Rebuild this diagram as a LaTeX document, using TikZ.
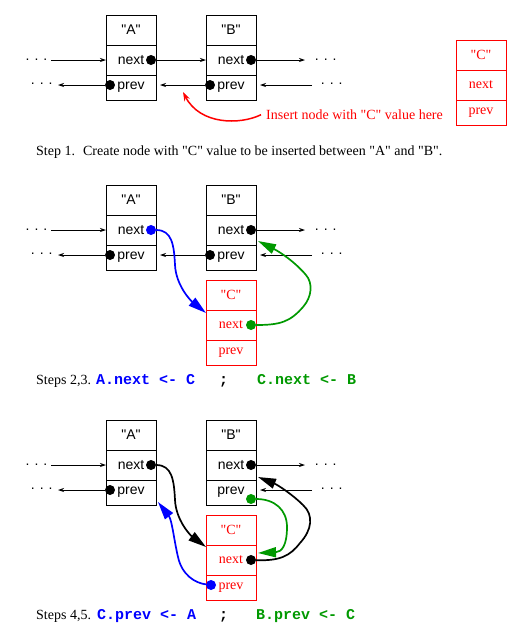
\documentclass[tikz,border=0pt]{standalone}
\usepackage{fontspec}
\setmainfont{Liberation Serif}[Ligatures=TeXOff]
\setmonofont{Liberation Mono}
\newfontfamily\arialfont{Liberation Sans}[Ligatures=TeXOff]
\usetikzlibrary{arrows.meta}
\definecolor{cgreen}{RGB}{0,153,0}
\definecolor{cblue}{RGB}{0,0,255}
\definecolor{cred}{RGB}{255,0,0}
\begin{document}
\begin{tikzpicture}[x=1pt,y=-1pt,
 cellbase/.style={draw, line width=0.9pt, minimum width=50pt, inner sep=0pt, outer sep=0pt},
 tallcell/.style={cellbase, minimum height=30pt},
 shortcell/.style={cellbase, minimum height=25pt},
 sanstext/.style={font=\arialfont\fontsize{14}{16}\selectfont},
 redcell/.style={text=cred, draw=cred, font=\fontsize{14}{16}\selectfont},
 dotnode/.style={circle, fill, inner sep=0pt, minimum size=10pt},
 ptr/.style={line width=0.8pt, -{Stealth[length=6pt,width=4pt]}},
 ellnode/.style={anchor=base west, inner sep=0pt, font=\arialfont\fontsize{14}{16}\selectfont},
 bigarrow/.style={line width=1.7pt, -{Triangle[length=18pt,width=10pt]}},
 redarrow/.style={cred, line width=1.5pt, -{Stealth[length=9pt,width=6pt]}},
 captext/.style={anchor=base west, inner sep=0pt, font=\fontsize{14}{16}\selectfont},
 codetext/.style={anchor=base west, inner sep=0pt, font=\ttfamily\bfseries\fontsize{15}{17}\selectfont},
]
\fill[white] (0,0) rectangle (521,641);
\useasboundingbox (0,0) rectangle (521,641);

% ================= Panel 1 =================
\node[tallcell,sanstext] (A1v) at (131,30) {"A"};
\node[tallcell,sanstext] (A1n) at (131,60) {next};
\node[shortcell,sanstext] (A1p) at (131,87.5) {prev};
\node[tallcell,sanstext] (B1v) at (231,30) {"B"};
\node[tallcell,sanstext] (B1n) at (231,60) {next};
\node[shortcell,sanstext] (B1p) at (231,87.5) {prev};
\node[tallcell,redcell] (C1v) at (481,55) {"C"};
\node[tallcell,redcell] (C1n) at (481,85) {next};
\node[shortcell,redcell] (C1p) at (481,112.5) {prev};

\node[dotnode] (A1nd) at (151,60) {};
\node[dotnode] (A1pd) at (110,85) {};
\node[dotnode] (B1nd) at (251,60) {};
\node[dotnode] (B1pd) at (210,85) {};

\node[ellnode] (L1t) at (25.5,60) {.\hspace{5pt}.\hspace{5pt}.};
\node[ellnode] (L1b) at (30.7,84.5) {.\hspace{5pt}.\hspace{5pt}.};
\node[ellnode] (R1t) at (314.7,60) {.\hspace{5pt}.\hspace{5pt}.};
\node[ellnode] (R1b) at (320.7,84.5) {.\hspace{5pt}.\hspace{5pt}.};

\coordinate (L1s) at (51,60);
\coordinate (L1e) at (58,85);
\coordinate (A1pin) at (160,85);
\coordinate (R1e) at (305,60);
\coordinate (R1s) at (312,85);
\coordinate (B1pin) at (260,85);
\draw[ptr] (L1s) -- (A1n.west);
\draw[ptr] (A1pd) -- (L1e);
\draw[ptr] (A1nd) -- (B1n.west);
\draw[ptr] (B1pd) -- (A1pin);
\draw[ptr] (B1nd) -- (R1e);
\draw[ptr] (R1s) -- (B1pin);

\node[captext, text=cred] (ins) at (266,119.5) {Insert node with "C" value here};
\coordinate (gap1) at (183,92);
\draw[redarrow] ([xshift=-5pt]ins.west) .. controls (240,125) and (200,125) .. (gap1);

\node[captext] (cap1) at (36,155) {Step 1.\hspace{8pt}Create node with "C" value to be inserted between "A" and "B".};

% ================= Panel 2 =================
\node[tallcell,sanstext] (A2v) at (131,200) {"A"};
\node[tallcell,sanstext] (A2n) at (131,230) {next};
\node[shortcell,sanstext] (A2p) at (131,257.5) {prev};
\node[tallcell,sanstext] (B2v) at (231,200) {"B"};
\node[tallcell,sanstext] (B2n) at (231,230) {next};
\node[shortcell,sanstext] (B2p) at (231,257.5) {prev};
\node[tallcell,redcell] (C2v) at (231,295) {"C"};
\node[tallcell,redcell] (C2n) at (231,325) {next};
\node[shortcell,redcell] (C2p) at (231,352.5) {prev};

\node[dotnode, cblue] (A2nd) at (151,230) {};
\node[dotnode] (A2pd) at (110,255) {};
\node[dotnode] (B2nd) at (251,230) {};
\node[dotnode] (B2pd) at (210,255) {};
\node[dotnode, cgreen] (C2nd) at (251,325) {};

\node[ellnode] (L2t) at (25.5,230) {.\hspace{5pt}.\hspace{5pt}.};
\node[ellnode] (L2b) at (30.7,254.5) {.\hspace{5pt}.\hspace{5pt}.};
\node[ellnode] (R2t) at (314.7,230) {.\hspace{5pt}.\hspace{5pt}.};
\node[ellnode] (R2b) at (320.7,254.5) {.\hspace{5pt}.\hspace{5pt}.};

\coordinate (L2s) at (51,230);
\coordinate (L2e) at (58,255);
\coordinate (A2pin) at (160,255);
\coordinate (R2e) at (305,230);
\coordinate (R2s) at (312,255);
\coordinate (B2pin) at (260,255);
\draw[ptr] (L2s) -- (A2n.west);
\draw[ptr] (A2pd) -- (L2e);
\draw[ptr] (B2pd) -- (A2pin);
\draw[ptr] (B2nd) -- (R2e);
\draw[ptr] (R2s) -- (B2pin);

\draw[bigarrow, cblue] (A2nd) .. controls (172,230) and (174,245) .. (175,265)
  .. controls (176,285) and (190,300) .. ([yshift=-3pt]C2v.south west);
\draw[bigarrow, cgreen] (C2nd) .. controls (280,325) and (290,322) .. (303,307)
  .. controls (312,297) and (313,283) .. (306,275)
  .. controls (295,262) and (280,252) .. ([xshift=2pt,yshift=4pt]B2n.south east);

\node[captext] (cap2) at (36,384.5) {Steps 2,3.};
\node[codetext, text=cblue] (code2a) at (96,384.5) {A.next <- C};
\node[codetext] (semi2) at (219,384.5) {;};
\node[codetext, text=cgreen] (code2b) at (257,384.5) {C.next <- B};

% ================= Panel 3 =================
\node[tallcell,sanstext] (A3v) at (131,435) {"A"};
\node[tallcell,sanstext] (A3n) at (131,465) {next};
\node[shortcell,sanstext] (A3p) at (131,492.5) {prev};
\node[tallcell,sanstext] (B3v) at (231,435) {"B"};
\node[tallcell,sanstext] (B3n) at (231,465) {next};
\node[shortcell,sanstext] (B3p) at (231,492.5) {prev};
\node[tallcell,redcell] (C3v) at (231,530) {"C"};
\node[tallcell,redcell] (C3n) at (231,560) {next};
\node[shortcell,redcell] (C3p) at (231,587.5) {prev};

\node[dotnode] (A3nd) at (151,465) {};
\node[dotnode] (A3pd) at (110,490) {};
\node[dotnode] (B3nd) at (251,465) {};
\node[dotnode, cgreen] (B3pd) at (251,499) {};
\node[dotnode] (C3nd) at (251,560) {};
\node[dotnode, cblue] (C3pd) at (211,585) {};

\node[ellnode] (L3t) at (25.5,465) {.\hspace{5pt}.\hspace{5pt}.};
\node[ellnode] (L3b) at (30.7,489.5) {.\hspace{5pt}.\hspace{5pt}.};
\node[ellnode] (R3t) at (314.7,465) {.\hspace{5pt}.\hspace{5pt}.};
\node[ellnode] (R3b) at (320.7,489.5) {.\hspace{5pt}.\hspace{5pt}.};

\coordinate (L3s) at (51,465);
\coordinate (L3e) at (58,490);
\coordinate (R3e) at (305,465);
\coordinate (R3s) at (312,490);
\coordinate (B3pin) at (260,490);
\draw[ptr] (L3s) -- (A3n.west);
\draw[ptr] (A3pd) -- (L3e);
\draw[ptr] (B3nd) -- (R3e);
\draw[ptr] (R3s) -- (B3pin);

\draw[bigarrow] (A3nd) .. controls (172,465) and (174,480) .. (175,500)
  .. controls (176,520) and (190,535) .. ([yshift=-2pt]C3v.south west);
\draw[bigarrow, cgreen] (B3pd) .. controls (275,499) and (287,510) .. (287,527)
  .. controls (287,545) and (282,552) .. ([xshift=2pt,yshift=-8pt]C3n.north east);
\draw[bigarrow] (C3nd) .. controls (280,561) and (290,556) .. (300,543)
  .. controls (312,530) and (314,515) .. (303,505)
  .. controls (293,495) and (278,485) .. ([xshift=2pt,yshift=3pt]B3n.south east);
\draw[bigarrow, cblue] (C3pd) .. controls (195,583) and (182,575) .. (178,557)
  .. controls (174,540) and (172,520) .. ([xshift=2pt,yshift=3pt]A3p.south east);

\node[captext] (cap3) at (36,619.5) {Steps 4,5.};
\node[codetext, text=cblue] (code3a) at (97,619.5) {C.prev <- A};
\node[codetext] (semi3) at (219,619.5) {;};
\node[codetext, text=cgreen] (code3b) at (256,619.5) {B.prev <- C};
\end{tikzpicture}
\end{document}
